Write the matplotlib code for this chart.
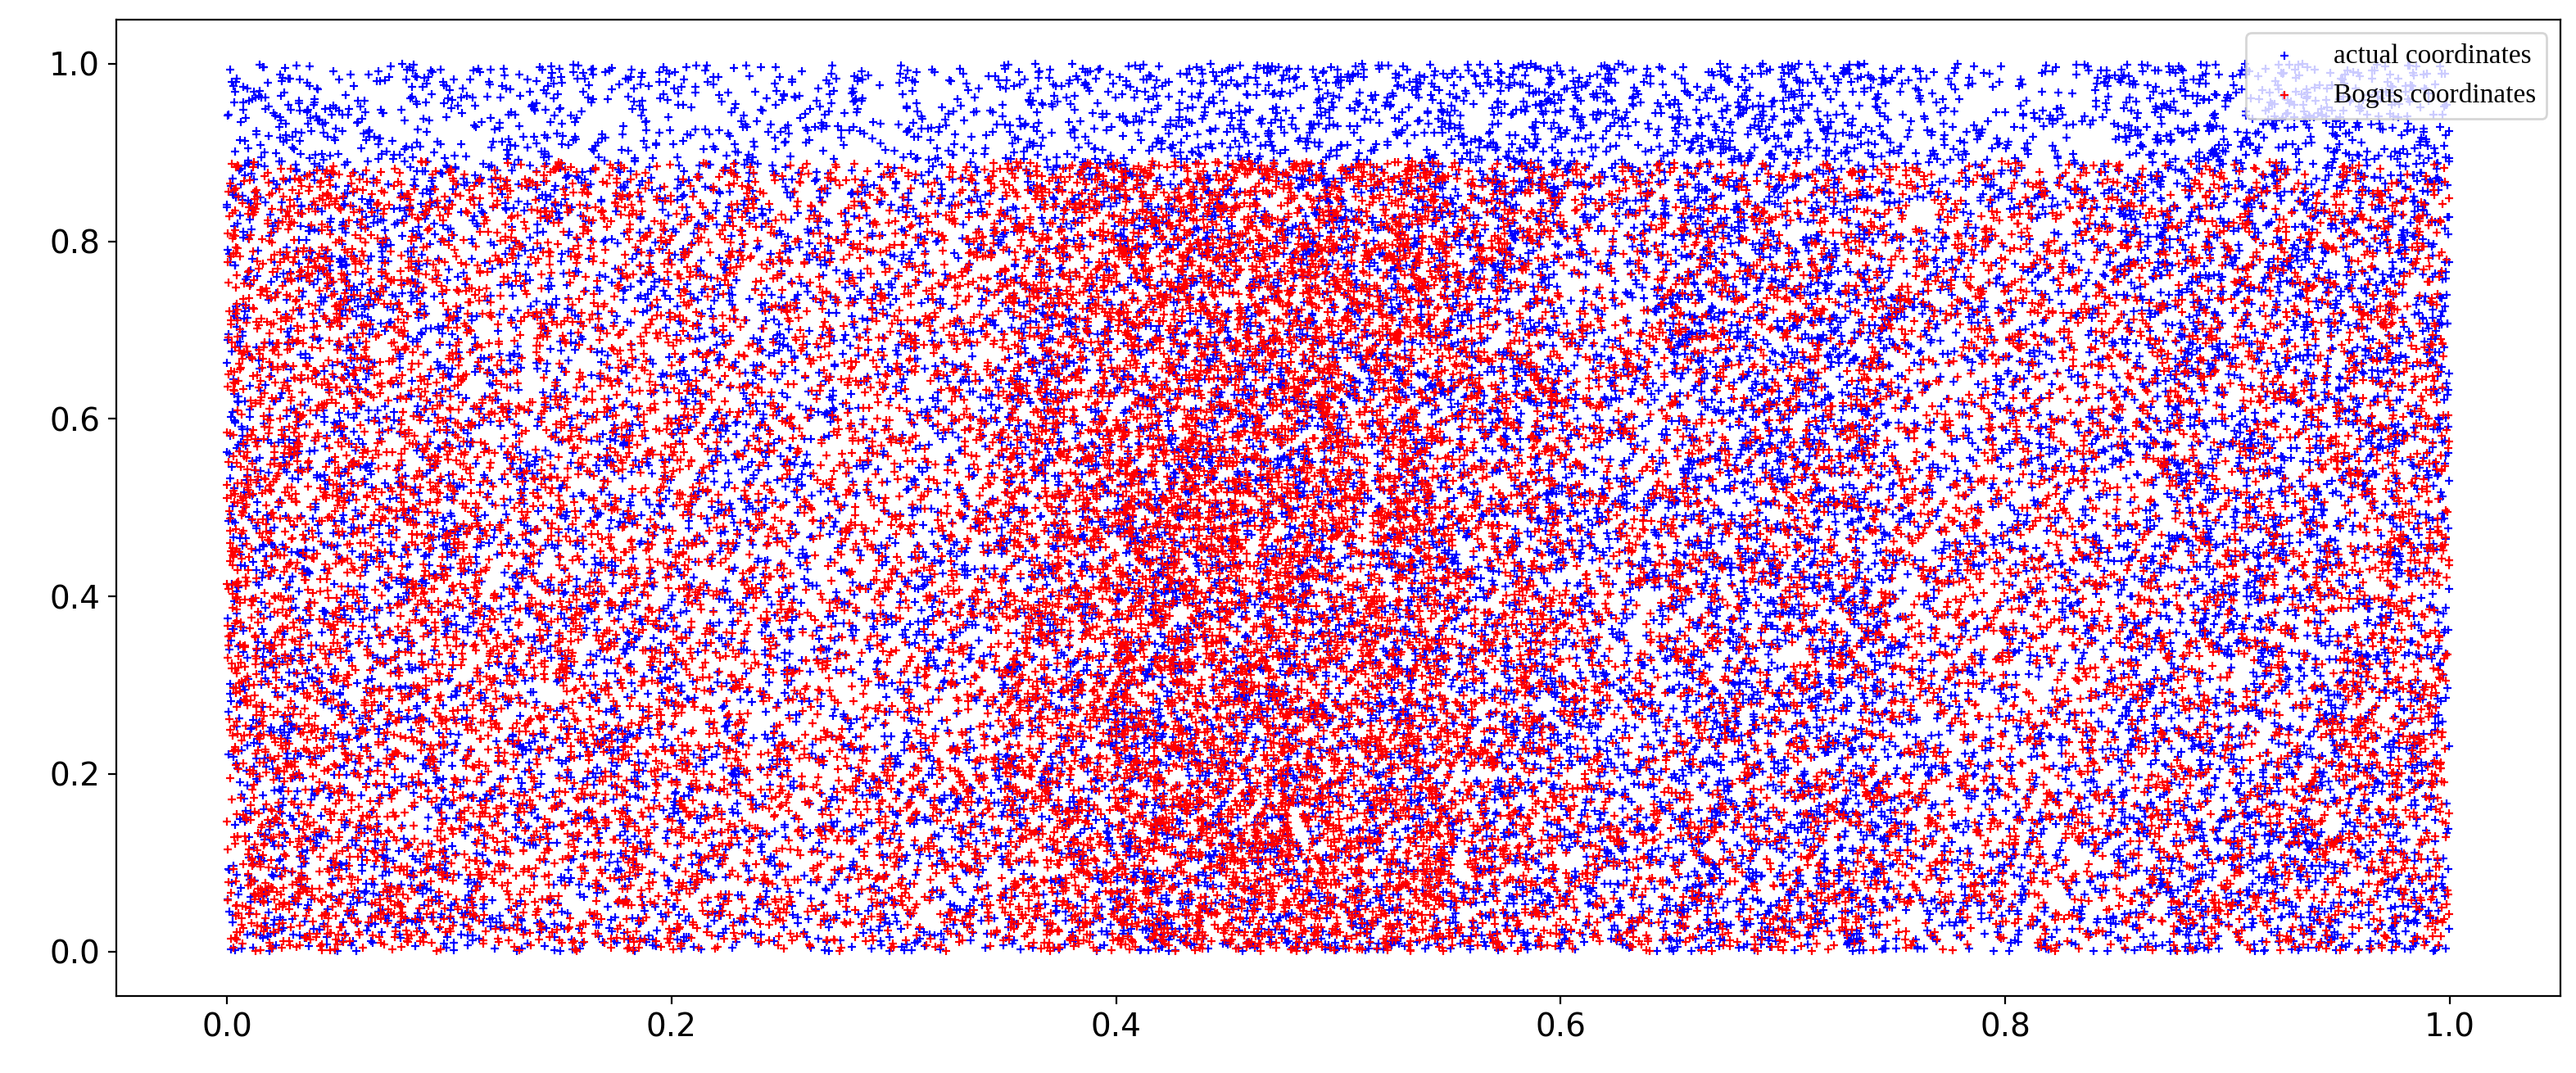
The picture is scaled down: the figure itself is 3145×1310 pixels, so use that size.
import numpy as np
import matplotlib
matplotlib.use('Agg')
import matplotlib.pyplot as plt

# relative point density per x band of width 0.05
x_edges = np.linspace(0.0, 1.0, 21)
blue_density = [1.0, 1.1, 0.9, 0.9, 0.9, 0.8, 0.9, 1.2, 1.5, 1.5,
                1.4, 1.5, 1.2, 1.6, 1.6, 0.9, 0.9, 1.4, 1.4, 1.3]
red_density = [1.3, 1.1, 1.0, 1.0, 0.9, 0.8, 0.9, 1.6, 2.0, 2.0,
               1.8, 1.2, 0.8, 0.8, 0.9, 0.8, 0.8, 0.8, 0.8, 1.0]
blue_ymax = 1.0
red_ymax = 0.89
n_blue = 20000
n_red = 20000


def sample(density, n, ymax, rng):
  d = np.array(density, dtype=float)
  counts = np.round(n * d / d.sum()).astype(int)
  xs, ys = [], []
  for i, c in enumerate(counts):
    xs.append(rng.uniform(x_edges[i], x_edges[i + 1], c))
    ys.append(rng.uniform(0.0, ymax, c))
  return np.concatenate(xs), np.concatenate(ys)


def main():
  rng = np.random.default_rng(3)
  xb, yb = sample(blue_density, n_blue, blue_ymax, rng)
  xr, yr = sample(red_density, n_red, red_ymax, rng)

  fig = plt.figure(figsize=(15.725, 6.55), dpi=200)
  ax = fig.add_axes([0.045, 0.072, 0.949, 0.91])
  ax.scatter(xb, yb, marker='+', s=12, linewidths=0.8, c='blue',
             label='actual coordinates')
  ax.scatter(xr, yr, marker='+', s=12, linewidths=0.8, c='red',
             label='Bogus coordinates')
  ax.tick_params(labelsize=14)
  ax.legend(loc='upper right', prop={'family': 'Liberation Serif', 'size': 12},
            markerscale=1.0, framealpha=0.8)
  fig.savefig('out.png')
  plt.close(fig)


if __name__ == "__main__":
  main()
